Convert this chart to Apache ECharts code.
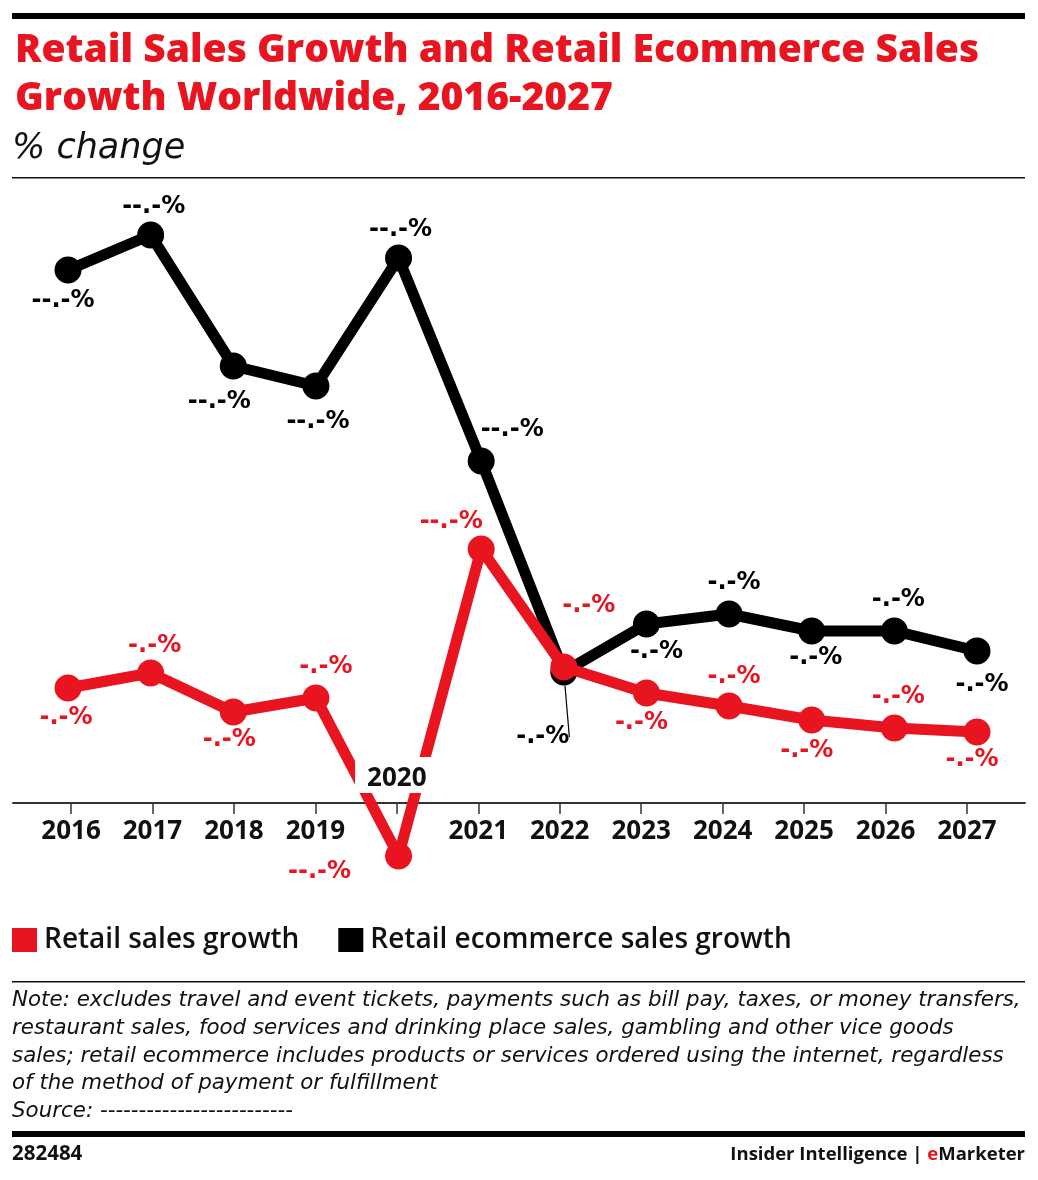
<!DOCTYPE html>
<html>
<head>
<meta charset="utf-8">
<script src="https://cdn.jsdelivr.net/npm/echarts@6/dist/echarts.min.js"></script>
<style>
  html, body { margin: 0; padding: 0; background: #fff; }
  #chart { width: 1038px; height: 1180px; }
</style>
</head>
<body>
<div id="chart"></div>
<script>
// ---- data ----
const years = ['2016', '2017', '2018', '2019', '2020', '2021', '2022', '2023', '2024', '2025', '2026', '2027'];
const retailGrowth = [5.75, 6.5, 4.55, 5.25, -2.65, 12.7, 6.8, 5.5, 4.85, 4.15, 3.75, 3.55];
const ecommerceGrowth = [26.65, 28.4, 21.85, 20.85, 27.25, 17.1, 6.55, 8.95, 9.45, 8.6, 8.6, 7.6];
const retailLabels = ['-.-%', '-.-%', '-.-%', '-.-%', '--.-%', '--.-%', '-.-%', '-.-%', '-.-%', '-.-%', '-.-%', '-.-%'];
const ecommerceLabels = ['--.-%', '--.-%', '--.-%', '--.-%', '--.-%', '--.-%', '-.-%', '-.-%', '-.-%', '-.-%', '-.-%', '-.-%'];
const seriesNames = ['Retail sales growth', 'Retail ecommerce sales growth'];

// ---- styling / label placement (offsets from point centre, px) ----
const RED = '#e8141f';
const BLACK = '#000000';
const retailLabelOffset = [[-2, 30], [4, -27], [-4, 28], [10, -31], [-79, 16], [-30, -27], [25, -61], [-5, 30], [5, -29], [-5, 31], [4, -31], [-5, 28]];
const ecomLabelOffset = [[-5, 31], [3, -28], [-14, 36], [2, 36], [2, -28], [31, -31], [-21, 65], [10, 28], [5, -31], [4, 27], [4, -31], [5, 34]];

const labelFont = { fontFamily: 'DejaVu Sans', fontWeight: 'bold', fontSize: 24 };

function buildData(values, labels, offsets, color, leaderIndex) {
  return values.map((v, i) => {
    const item = {
      value: v,
      label: {
        show: true,
        position: 'inside',
        offset: offsets[i],
        formatter: labels[i],
        color: color,
        textBorderWidth: 0,
        ...labelFont
      }
    };
    if (i === leaderIndex) {
      item.labelLine = { show: true, lineStyle: { color: '#000', width: 1.2 } };
    }
    return item;
  });
}

const chart = echarts.init(document.getElementById('chart'), null, { renderer: 'canvas' });

const gridTop = 203, gridBottom = 297;  // series grid: 0 at y=803, 20px per unit
const axisBottom = 1180 - 803;          // axis grids: bottom edge on the zero line
const yHidden = { type: 'value', show: false, splitLine: { show: false } };

const option = {
  animation: false,
  backgroundColor: '#ffffff',
  textStyle: { fontFamily: 'Open Sans' },
  title: [
    {
      text: 'Retail Sales Growth and Retail Ecommerce Sales\nGrowth Worldwide, 2016-2027',
      left: 10, top: 22,
      textStyle: { color: RED, fontFamily: 'Open Sans', fontWeight: 800, fontSize: 39, lineHeight: 48 }
    },
    {
      text: '% change',
      left: 7, top: 126,
      textStyle: { color: '#111', fontFamily: 'DejaVu Sans', fontStyle: 'italic', fontWeight: 'normal', fontSize: 35 }
    }
  ],
  legend: {
    data: seriesNames,
    left: 12, top: 926, padding: 0,
    icon: 'rect',
    itemWidth: 25, itemHeight: 24, itemGap: 39,
    textStyle: { color: '#111', fontFamily: 'Open Sans', fontWeight: 600, fontSize: 28, padding: [0, 0, 0, 2] }
  },
  grid: [
    { left: 26.7, right: 19.7, top: gridTop, bottom: gridBottom },   // series
    { left: 30.3, right: 30.3, top: gridTop, bottom: axisBottom },   // ticks + labels
    { left: 13, right: 13, top: gridTop, bottom: axisBottom },       // axis line
    { left: 30.3, right: 30.3, top: gridTop, bottom: axisBottom }    // lifted 2020 label
  ],
  xAxis: [
    { type: 'category', data: years, gridIndex: 0, boundaryGap: true, show: false },
    {
      type: 'category', data: years, gridIndex: 1, boundaryGap: true, position: 'bottom',
      axisLine: { show: false, onZero: false },
      axisTick: { show: true, alignWithLabel: true, length: 11, lineStyle: { color: '#333', width: 1.5 } },
      axisLabel: {
        interval: 0, margin: 16, color: '#111', fontFamily: 'Open Sans', fontWeight: 700, fontSize: 26,
        formatter: v => (v === '2020' ? '' : v)
      }
    },
    {
      type: 'category', data: years, gridIndex: 2, boundaryGap: true, position: 'bottom',
      axisLine: { show: true, onZero: false, lineStyle: { color: '#333', width: 2 } },
      axisTick: { show: false },
      axisLabel: { show: false }
    },
    {
      type: 'category', data: years, gridIndex: 3, boundaryGap: true, position: 'bottom', z: 10,
      axisLine: { show: false, onZero: false }, axisTick: { show: false },
      axisLabel: {
        interval: 0, inside: true, margin: 10, color: '#111', fontFamily: 'Open Sans', fontWeight: 700, fontSize: 26,
        backgroundColor: '#ffffff', padding: [9, 12, 1, 12],
        formatter: v => (v === '2020' ? v : '')
      }
    }
  ],
  yAxis: [
    { ...yHidden, gridIndex: 0, min: -4, max: 30 },
    { ...yHidden, gridIndex: 1, min: 0, max: 30 },
    { ...yHidden, gridIndex: 2, min: 0, max: 30 },
    { ...yHidden, gridIndex: 3, min: 0, max: 30 }
  ],
  series: [
    {
      name: seriesNames[1], type: 'line', xAxisIndex: 0, yAxisIndex: 0,
      data: buildData(ecommerceGrowth, ecommerceLabels, ecomLabelOffset, BLACK, 6),
      symbol: 'circle', symbolSize: 27,
      lineStyle: { color: BLACK, width: 11 },
      itemStyle: { color: BLACK },
      z: 2
    },
    {
      name: seriesNames[0], type: 'line', xAxisIndex: 0, yAxisIndex: 0,
      data: buildData(retailGrowth, retailLabels, retailLabelOffset, RED, -1),
      symbol: 'circle', symbolSize: 27,
      lineStyle: { color: RED, width: 11 },
      itemStyle: { color: RED },
      z: 3
    }
  ],
  graphic: [
    { type: 'rect', shape: { x: 12, y: 13, width: 1013, height: 6 }, style: { fill: '#000' } },
    { type: 'rect', shape: { x: 12, y: 177, width: 1013, height: 1.5 }, style: { fill: '#111' } },
    { type: 'rect', shape: { x: 12, y: 981, width: 1013, height: 1.5 }, style: { fill: '#111' } },
    {
      type: 'text', left: 12, top: 987,
      style: {
        text: 'Note: excludes travel and event tickets, payments such as bill pay, taxes, or money transfers,\nrestaurant sales, food services and drinking place sales, gambling and other vice goods\nsales; retail ecommerce includes products or services ordered using the internet, regardless\nof the method of payment or fulfillment\nSource: -------------------------',
        fill: '#111', fontFamily: 'DejaVu Sans', fontStyle: 'italic', fontSize: 21.4, lineHeight: 27.6
      }
    },
    { type: 'rect', shape: { x: 12, y: 1131, width: 1013, height: 6 }, style: { fill: '#000' } },
    {
      type: 'text', left: 12, top: 1144,
      style: { text: '282484', fill: '#111', fontFamily: 'Open Sans', fontWeight: 700, fontSize: 20.5 }
    },
    {
      type: 'text', right: 13, top: 1145,
      style: {
        text: 'Insider Intelligence | {r|e}Marketer',
        fill: '#111', fontFamily: 'Open Sans', fontWeight: 700, fontSize: 18.5,
        rich: { r: { fill: RED, fontFamily: 'Open Sans', fontWeight: 700, fontSize: 18.5 } }
      }
    }
  ]
};

chart.setOption(option);
</script>
</body>
</html>
